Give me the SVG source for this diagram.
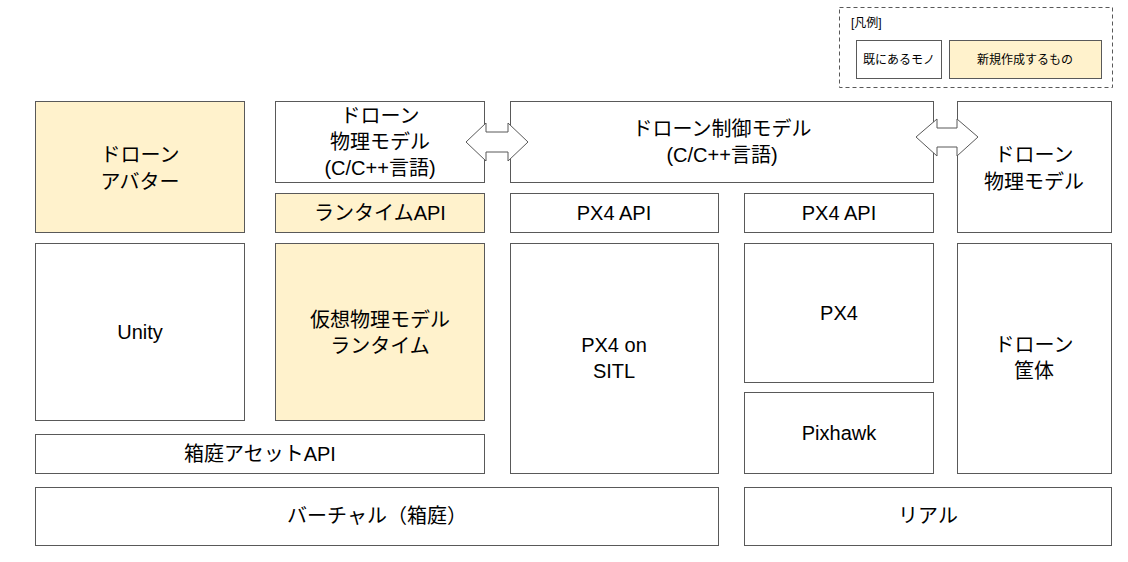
<svg xmlns="http://www.w3.org/2000/svg" width="1128" height="562" viewBox="0 0 1128 562">
<style>
rect{stroke:#595959;stroke-width:1;fill:#fff}
rect.bg{stroke:none}
.y{fill:#fff2cc}
text{font-family:"Liberation Sans","Noto Sans CJK JP",sans-serif;font-size:20px;fill:#000;text-anchor:middle}
.s{font-size:12px}
.c path{fill:#fff;stroke:#595959;stroke-width:1}
</style>
<rect class="bg" width="1128" height="562"/>
<g id="legend">
<rect x="839.5" y="7.5" width="273" height="80" fill="none" style="fill:none" stroke-dasharray="4,3"/>
<text class="s" x="851" y="27" style="text-anchor:start">[凡例]</text>
<rect x="856.5" y="40.5" width="85" height="38"/>
<text class="s" x="899" y="64">既にあるモノ</text>
<rect class="y" x="949.5" y="40.5" width="152" height="38"/>
<text class="s" x="1025" y="64">新規作成するもの</text>
</g>
<g id="avatar"><rect class="y" x="35.5" y="101.5" width="209" height="131"/><text x="140" y="162">ドローン</text><text x="140" y="189">アバター</text></g>
<g id="unity"><rect x="35.5" y="243.5" width="209" height="177"/><text x="140" y="339">Unity</text></g>
<g id="assetapi"><rect x="35.5" y="434.5" width="449" height="39"/><text x="260" y="461">箱庭アセットAPI</text></g>
<g id="virtual"><rect x="35.5" y="487.5" width="683" height="58"/><text x="377" y="523">バーチャル（箱庭）</text></g>
<g id="physmodel"><rect x="275.5" y="101.5" width="209" height="81"/><text x="380" y="123">ドローン</text><text x="380" y="149">物理モデル</text><text x="380" y="175">(C/C++言語)</text></g>
<g id="runtimeapi"><rect class="y" x="275.5" y="193.5" width="209" height="39"/><text x="380" y="220">ランタイムAPI</text></g>
<g id="runtime"><rect class="y" x="275.5" y="243.5" width="209" height="177"/><text x="380" y="327">仮想物理モデル</text><text x="380" y="353">ランタイム</text></g>
<g id="control"><rect x="510.5" y="101.5" width="423" height="81"/><text x="722" y="136">ドローン制御モデル</text><text x="722" y="162">(C/C++言語)</text></g>
<g id="px4api1"><rect x="510.5" y="193.5" width="208" height="39"/><text x="614" y="220">PX4 API</text></g>
<g id="px4api2"><rect x="744.5" y="193.5" width="189" height="39"/><text x="839" y="220">PX4 API</text></g>
<g id="sitl"><rect x="510.5" y="243.5" width="208" height="230"/><text x="614" y="352">PX4 on</text><text x="614" y="378">SITL</text></g>
<g id="px4"><rect x="744.5" y="243.5" width="189" height="139"/><text x="839" y="320">PX4</text></g>
<g id="pixhawk"><rect x="744.5" y="392.5" width="189" height="81"/><text x="839" y="440">Pixhawk</text></g>
<g id="realphys"><rect x="957.5" y="101.5" width="154" height="131"/><text x="1034" y="162">ドローン</text><text x="1034" y="189">物理モデル</text></g>
<g id="body"><rect x="957.5" y="243.5" width="154" height="230"/><text x="1034" y="352">ドローン</text><text x="1034" y="378">筐体</text></g>
<g id="real"><rect x="744.5" y="487.5" width="367" height="58"/><text x="928" y="523">リアル</text></g>
<g class="c" id="connectors">
<path d="M466,142 L486,123 L486,132 L508,132 L508,123 L528,142 L508,161 L508,152 L486,152 L486,161 Z"/>
<path d="M916,137 L937,119 L937,128 L957,128 L957,119 L978,137 L957,156 L957,147 L937,147 L937,156 Z"/>
</g>
</svg>
